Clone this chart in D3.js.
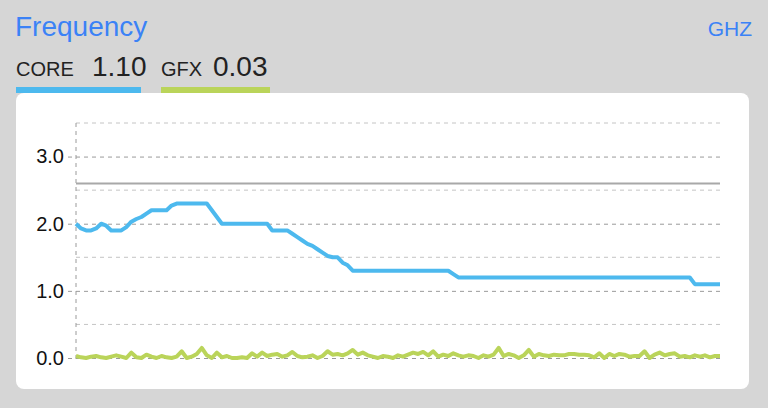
<!DOCTYPE html>
<html>
<head>
<meta charset="utf-8">
<script src="https://cdn.jsdelivr.net/npm/d3@7"></script>
<style>
  html, body { margin: 0; padding: 0; background: #d6d6d6; }
  svg { display: block; font-family: "Liberation Sans", Arial, sans-serif; }
</style>
</head>
<body>
<div id="chart"></div>
<script>
// readings, one sample every ~5px
const coreValues = [
  2.0, 1.93, 1.9, 1.9, 1.93, 2.0, 1.97, 1.9, 1.9, 1.9,
  1.95, 2.03, 2.07, 2.1, 2.15, 2.2, 2.2, 2.2, 2.2, 2.27,
  2.3, 2.3, 2.3, 2.3, 2.3, 2.3, 2.3, 2.2, 2.1, 2.0,
  2.0, 2.0, 2.0, 2.0, 2.0, 2.0, 2.0, 2.0, 2.0, 1.9,
  1.9, 1.9, 1.9, 1.85, 1.8, 1.75, 1.7, 1.67, 1.62, 1.57,
  1.52, 1.5, 1.5, 1.42, 1.38, 1.3, 1.3, 1.3, 1.3, 1.3,
  1.3, 1.3, 1.3, 1.3, 1.3, 1.3, 1.3, 1.3, 1.3, 1.3,
  1.3, 1.3, 1.3, 1.3, 1.3, 1.25, 1.2, 1.2, 1.2, 1.2,
  1.2, 1.2, 1.2, 1.2, 1.2, 1.2, 1.2, 1.2, 1.2, 1.2,
  1.2, 1.2, 1.2, 1.2, 1.2, 1.2, 1.2, 1.2, 1.2, 1.2,
  1.2, 1.2, 1.2, 1.2, 1.2, 1.2, 1.2, 1.2, 1.2, 1.2,
  1.2, 1.2, 1.2, 1.2, 1.2, 1.2, 1.2, 1.2, 1.2, 1.2,
  1.2, 1.2, 1.2, 1.1, 1.1, 1.1, 1.1, 1.1, 1.1
];
const gfxValues = [
  0.03, 0.01, 0.0, 0.02, 0.03, 0.01, 0.0, 0.02, 0.04, 0.02,
  0.0, 0.08, 0.01, 0.0, 0.05, 0.02, 0.0, 0.03, 0.01, 0.0,
  0.02, 0.1, 0.0, 0.02, 0.06, 0.15, 0.04, 0.0, 0.08, 0.01,
  0.03, 0.0, 0.0, 0.01, 0.0, 0.07, 0.02, 0.08, 0.03, 0.05,
  0.06, 0.02, 0.04, 0.09, 0.03, 0.01, 0.02, 0.04, 0.0, 0.03,
  0.1, 0.05, 0.06, 0.04, 0.07, 0.12, 0.05, 0.08, 0.04, 0.02,
  0.0, 0.03, 0.02, 0.0, 0.04, 0.02, 0.05, 0.08, 0.06, 0.09,
  0.04, 0.1, 0.02, 0.05, 0.03, 0.07, 0.04, 0.02, 0.04, 0.03,
  0.0, 0.04, 0.02, 0.05, 0.15, 0.03, 0.06, 0.04, 0.0, 0.04,
  0.12, 0.02, 0.06, 0.04, 0.03, 0.05, 0.04, 0.04, 0.06, 0.06,
  0.05, 0.05, 0.04, 0.01, 0.07, 0.0, 0.06, 0.03, 0.06, 0.05,
  0.02, 0.03, 0.03, 0.1, 0.0, 0.05, 0.08, 0.04, 0.06, 0.07,
  0.02, 0.03, 0.01, 0.04, 0.02, 0.04, 0.01, 0.03, 0.03
];
const maxLine = 2.6;
const yTicks = [0, 1, 2, 3];
const yGrid = [0.5, 1.5, 2.5, 3.5];
const legend = [
  { name: "CORE", value: "1.10", color: "#4db9ee" },
  { name: "GFX", value: "0.03", color: "#bad45a" }
];

const width = 768, height = 408;
const plot = { left: 76, right: 720, top: 123, bottom: 358 };

const svg = d3.select("#chart")
  .append("svg")
  .attr("width", width)
  .attr("height", height);

svg.append("rect")
  .attr("width", width)
  .attr("height", height)
  .attr("fill", "#d6d6d6");

// header
svg.append("text")
  .attr("x", 15).attr("y", 36)
  .attr("fill", "#3b82f6")
  .attr("font-size", 28)
  .text("Frequency");

svg.append("text")
  .attr("x", 752).attr("y", 36)
  .attr("text-anchor", "end")
  .attr("fill", "#3b82f6")
  .attr("font-size", 21)
  .text("GHZ");

const legendX = [{ name: 16, value: 92, bar: [16, 141] }, { name: 161, value: 213, bar: [161, 270] }];
legend.forEach((d, i) => {
  const p = legendX[i];
  svg.append("text")
    .attr("x", p.name).attr("y", 76)
    .attr("fill", "#222")
    .attr("font-size", 20)
    .text(d.name);
  svg.append("text")
    .attr("x", p.value).attr("y", 76)
    .attr("fill", "#222")
    .attr("font-size", 28)
    .text(d.value);
  svg.append("rect")
    .attr("x", p.bar[0]).attr("y", 87)
    .attr("width", p.bar[1] - p.bar[0]).attr("height", 6)
    .attr("fill", d.color);
});

// card
svg.append("rect")
  .attr("x", 16).attr("y", 93)
  .attr("width", 733).attr("height", 296)
  .attr("rx", 8)
  .attr("fill", "#fff");

const x = d3.scaleLinear()
  .domain([0, coreValues.length - 1])
  .range([plot.left, plot.right]);

const y = d3.scaleLinear()
  .domain([0, 3.5])
  .range([plot.bottom, plot.top]);

// half-step grid
svg.append("g")
  .selectAll("line")
  .data(yGrid)
  .join("line")
  .attr("x1", plot.left).attr("x2", plot.right)
  .attr("y1", d => y(d)).attr("y2", d => y(d))
  .attr("stroke", "#c4c4c4")
  .attr("stroke-dasharray", "4,4");

// y axis with major grid
const yAxis = d3.axisLeft(y)
  .tickValues(yTicks)
  .tickFormat(d3.format(".1f"))
  .tickSize(-(plot.right - plot.left + 8))
  .tickPadding(4);

svg.append("g")
  .attr("class", "y axis")
  .attr("transform", `translate(${plot.left - 8},0)`)
  .call(yAxis)
  .call(g => g.select(".domain").remove())
  .call(g => g.selectAll(".tick line")
    .attr("stroke", "#9a9a9a")
    .attr("stroke-dasharray", "4,4"))
  .call(g => g.selectAll(".tick text")
    .attr("fill", "#111")
    .attr("font-size", 20)
    .attr("font-family", "Liberation Sans, Arial, sans-serif"));

// left vertical dashed line
svg.append("line")
  .attr("x1", plot.left).attr("x2", plot.left)
  .attr("y1", plot.top).attr("y2", plot.bottom + 4)
  .attr("stroke", "#9a9a9a")
  .attr("stroke-dasharray", "4,4");

// max frequency
svg.append("line")
  .attr("x1", plot.left).attr("x2", plot.right)
  .attr("y1", y(maxLine)).attr("y2", y(maxLine))
  .attr("stroke", "#a8a8a8")
  .attr("stroke-width", 2);

const line = d3.line()
  .x((d, i) => x(i))
  .y(d => y(d));

svg.append("path")
  .datum(gfxValues)
  .attr("d", line)
  .attr("fill", "none")
  .attr("stroke", legend[1].color)
  .attr("stroke-width", 4)
  .attr("stroke-linejoin", "round");

svg.append("path")
  .datum(coreValues)
  .attr("d", line)
  .attr("fill", "none")
  .attr("stroke", legend[0].color)
  .attr("stroke-width", 4)
  .attr("stroke-linejoin", "round");
</script>
</body>
</html>
